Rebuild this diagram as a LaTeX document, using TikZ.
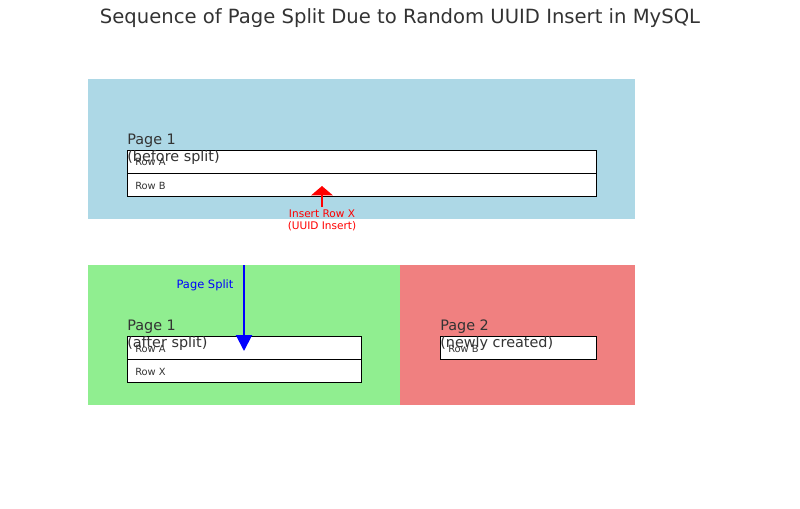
\documentclass[tikz,border=0pt]{standalone}
\usepackage{fontspec}
\setmainfont{DejaVu Sans}
\usetikzlibrary{arrows.meta}
\definecolor{pageblue}{HTML}{ADD8E6}
\definecolor{pagegreen}{HTML}{90EE90}
\definecolor{pagered}{HTML}{F08080}
\definecolor{textgray}{HTML}{333333}
\tikzset{
  rowbox/.style={draw=black, fill=white, line width=0.7pt},
  rowlabel/.style={anchor=west, font=\fontsize{7.4}{8}\selectfont, text=textgray, inner sep=0pt},
  pagelabel/.style={anchor=north west, align=left, font=\fontsize{10.8}{12.6}\selectfont, text=textgray, inner sep=0pt},
  smalllabel/.style={align=center, font=\fontsize{7.9}{9}\selectfont, inner sep=0pt}
}
\begin{document}
\begin{tikzpicture}[x=0.75pt, y=-0.75pt]
    \useasboundingbox (0,0) rectangle (800,508);
    \node[font=\fontsize{14.7}{16}\selectfont, text=textgray] (title) at (400,18) {Sequence of Page Split Due to Random UUID Insert in MySQL};
    % before split
    \fill[pageblue] (88,79) rectangle (635,219);
    \draw[rowbox] (127,150) rectangle (596,173);
    \draw[rowbox] (127,173) rectangle (596,196);
    \node[rowlabel] (rowa) at (135,162) {Row A};
    \node[rowlabel] (rowb) at (135,186) {Row B};
    \node[pagelabel] (page1) at (127,134) {Page 1\\(before split)};
    \coordinate (insfoot) at (322,207);
    \coordinate (instip) at (322,186);
    \draw[red, line width=1.5pt, -{Triangle[width=16pt,length=7pt]}] (insfoot) -- (instip);
    \node[smalllabel, text=red] (insert) at (322,220) {Insert Row X\\(UUID Insert)};
    % after split
    \fill[pagegreen] (88,265) rectangle (400,405);
    \fill[pagered] (400,265) rectangle (635,405);
    \draw[rowbox] (127,336) rectangle (361,359);
    \draw[rowbox] (127,359) rectangle (361,382);
    \draw[rowbox] (440,336) rectangle (596,359);
    \node[rowlabel] (rowa2) at (135,349) {Row A};
    \node[rowlabel] (rowx) at (135,372) {Row X};
    \node[rowlabel] (rowb2) at (448,349) {Row B};
    \node[pagelabel] (page1b) at (127,320) {Page 1\\(after split)};
    \node[pagelabel] (page2) at (440,320) {Page 2\\(newly created)};
    \coordinate (splitfoot) at (244,265);
    \coordinate (splittip) at (244,351);
    \draw[blue, line width=1.5pt, -{Triangle[width=12pt,length=12pt]}] (splitfoot) -- (splittip);
    \node[smalllabel, text=blue, font=\fontsize{8.6}{10}\selectfont] (split) at (205,285) {Page Split};
\end{tikzpicture}
\end{document}
